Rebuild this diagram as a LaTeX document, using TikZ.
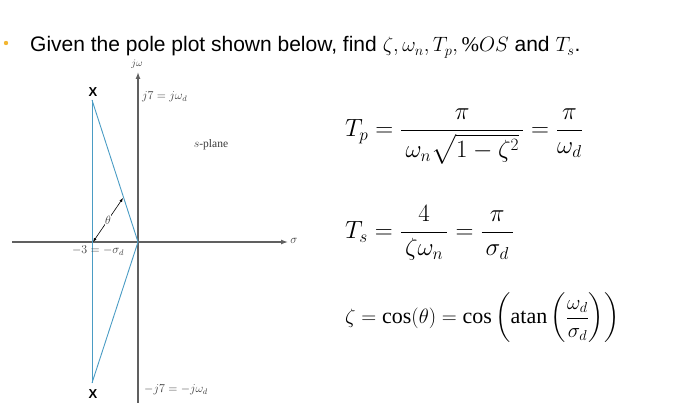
\documentclass[tikz,border=0pt]{standalone}
\usepackage{amsmath}
\usepackage{fontspec}
\setmainfont{Liberation Serif}
\newfontfamily\titlefont{Liberation Sans}
\usetikzlibrary{arrows.meta}
\definecolor{axisgray}{HTML}{606060}
\definecolor{poleblue}{HTML}{4A9CC4}
\definecolor{bulletc}{HTML}{F2B632}
\definecolor{labelc}{HTML}{3A3A3A}
\begin{document}
\begin{tikzpicture}[x=1pt,y=-1pt,
  axisline/.style={draw=axisgray,line width=1.3pt,-{Latex[length=7pt,width=5pt]}},
  blueline/.style={draw=poleblue,line width=0.9pt},
  smalllabel/.style={inner sep=1pt,text=labelc,font=\fontsize{11.5}{13}\selectfont},
  polemark/.style={inner sep=0pt,font=\titlefont\bfseries\fontsize{13}{14}\selectfont},
  bigeq/.style={anchor=west,inner sep=0pt,font=\fontsize{27}{32}\selectfont},
  mideq/.style={anchor=west,inner sep=0pt,font=\fontsize{22}{26}\selectfont}]
\useasboundingbox (0,0) rectangle (700,403);
% title
\fill[bulletc] (6,43) circle (2.2);
\node[anchor=base west,inner sep=0pt,font=\titlefont\fontsize{21}{25}\selectfont] (title) at (30,52)
  {Given the pole plot shown below, find $\zeta, \omega_n, T_p, \%OS$ and $T_s$.};
% axes
\coordinate (vbot) at (138,403);
\coordinate (vtop) at (138,72);
\coordinate (hleft) at (12,242);
\coordinate (hright) at (288,242);
\draw[axisline] (vbot) -- (vtop);
\draw[axisline] (hleft) -- (hright);
\node[smalllabel,font=\fontsize{10}{12}\selectfont,inner sep=0pt] (jw) at (137,64) {$j\omega$};
\node[smalllabel] (sigma) at (294,241) {$\sigma$};
% poles
\node[polemark] (p1) at (93,92) {X};
\node[polemark] (p2) at (93,394) {X};
\coordinate (top) at (92,100);
\coordinate (bot) at (92,383);
\coordinate (o) at (138,242);
\draw[blueline] (top) -- (bot);
\draw[blueline] (top) -- (o) -- (bot);
% theta
\coordinate (ta) at (93,242);
\coordinate (tb) at (123,198);
\draw[black,line width=0.6pt,{Latex[length=4pt,width=3pt]}-{Latex[length=4pt,width=3pt]}] (ta) -- (tb);
\node[smalllabel,fill=white,inner sep=0.5pt] (theta) at (108,220) {$\theta$};
% labels
\node[smalllabel,anchor=west] (jwd) at (141,97) {$j7 = j\omega_d$};
\node[smalllabel] (splane) at (211,145) {$s$-plane};
\node[smalllabel] (sd) at (98,251) {$-3 = -\sigma_d$};
\node[smalllabel,anchor=west] (mjwd) at (143,390) {$-j7 = -j\omega_d$};
% equations
\node[bigeq] (tp) at (345,137) {$\displaystyle T_p = \frac{\pi}{\,\omega_n\sqrt{1-\zeta^2}\,} = \frac{\pi}{\omega_d}$};
\node[bigeq] (ts) at (345,233) {$\displaystyle T_s = \frac{\;4\;}{\,\zeta\omega_n\,} = \frac{\pi}{\,\sigma_d\,}$};
\node[mideq] (zeta) at (345,318) {$\displaystyle \zeta = \cos(\theta) = \cos\left(\operatorname{atan}\left(\frac{\omega_d}{\sigma_d}\right)\right)$};
\end{tikzpicture}
\end{document}
